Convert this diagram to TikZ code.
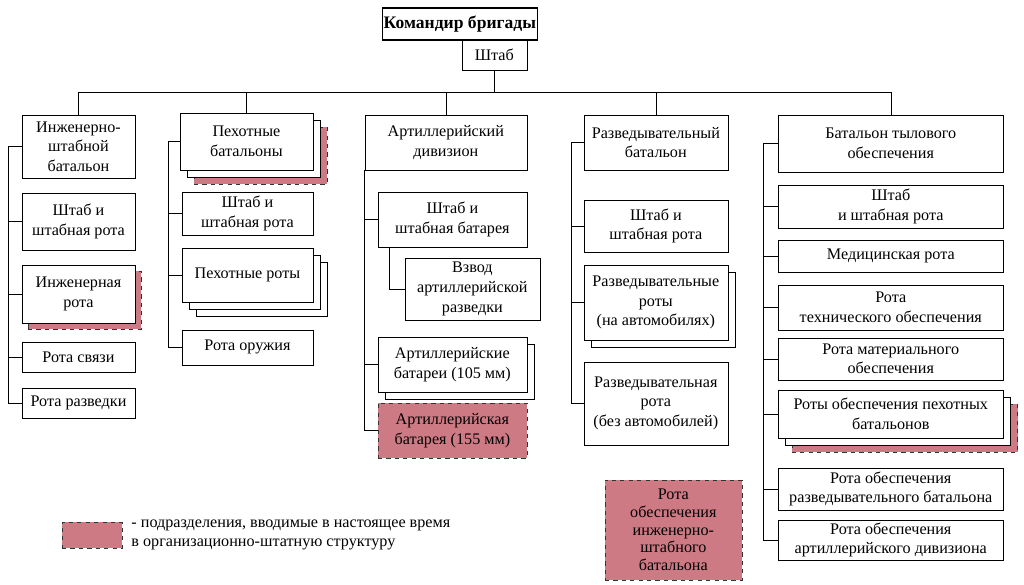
\documentclass[tikz,border=0pt]{standalone}
\usepackage{fontspec}
\setmainfont{Liberation Serif}
\usepackage{tikz}
\definecolor{newunit}{RGB}{205,122,132}

% box from pixel corners: [style] x1 y1 x2 y2 name text
\newcommand{\bx}[7][]{%
  \node[box,#1,minimum width={(#4-#2)*0.025cm},minimum height={(#5-#3)*0.025cm}]
    (#6) at ({(#2+#4)/2*0.025},{-(#3+#5)/2*0.025}) {#7};}

\begin{document}
\begin{tikzpicture}[
  box/.style={draw, thin, fill=white, inner sep=1pt, align=center,
              font=\fontsize{11.5}{14}\selectfont},
  newbox/.style={fill=newunit, dashed, draw=black!80},
  shade/.style={draw, thin, fill=white},
  link/.style={thin},
]
\useasboundingbox (0,0) rectangle (25.6,-14.6);
\coordinate (bus) at (0,-2.3);

% Command
\bx[line width=1.1pt, font=\fontsize{12.5}{14}\selectfont\bfseries]{390}{8}{530}{40}{cmd}{Командир бригады}
\bx{462}{40}{527}{70}{hq}{Штаб}

% Column 1
\bx{22}{115}{135}{178}{c1}{Инженерно-\\штабной\\батальон}
\coordinate (s1) at (0.2,0);
\bx{22}{193}{135}{250}{c1a}{Штаб и\\штабная рота}
\bx[newbox]{28}{271}{141}{329}{c1bs}{}
\bx{22}{265}{135}{323}{c1b}{Инженерная\\рота}
\bx{22}{342}{135}{372}{c1c}{Рота связи}
\bx{22}{388}{135}{418}{c1d}{Рота разведки}

% Column 2
\coordinate (s2) at (4.2,0);
\bx[newbox]{194}{127}{327}{184}{c2s2}{}
\bx[shade]{187}{120}{320}{177}{c2s1}{}
\bx{180}{113}{313}{170}{c2}{Пехотные\\батальоны}
\bx{182}{192}{313}{235}{c2a}{Штаб и\\штабная рота}
\bx[shade]{196}{262}{327}{316}{c2bs2}{}
\bx[shade]{189}{255}{320}{309}{c2bs1}{}
\bx{182}{248}{313}{302}{c2b}{Пехотные роты}
\bx{182}{330}{313}{365}{c2c}{Рота оружия}

% Column 3
\bx{365}{115}{527}{170}{c3}{Артиллерийский\\дивизион}
\bx{378}{192}{527}{247}{c3a}{Штаб и\\штабная батарея}
\bx{405}{258}{540}{320}{c3v}{Взвод\\артиллерийской\\разведки}
\bx[shade]{385}{344}{534}{399}{c3bs}{}
\bx{378}{337}{527}{392}{c3b}{Артиллерийские\\батареи (105 мм)}
\bx[newbox]{378}{403}{527}{458}{c3c}{Артиллерийская\\батарея (155 мм)}

% Column 4
\coordinate (s4) at (14.275,0);
\bx{584}{115}{728}{170}{c4}{Разведывательный\\батальон}
\bx{584}{200}{728}{252}{c4a}{Штаб и\\штабная рота}
\bx[shade]{591}{272}{735}{347}{c4bs}{}
\bx{584}{265}{728}{340}{c4b}{Разведывательные\\роты\\(на автомобилях)}
\bx{584}{362}{728}{445}{c4c}{Разведывательная\\рота\\(без автомобилей)}

% Column 5
\coordinate (s5) at (19.075,0);
\bx{778}{115}{1004}{172}{c5}{Батальон тылового\\обеспечения}
\bx{778}{185}{1004}{228}{c5a}{Штаб\\и штабная рота}
\bx{778}{240}{1004}{272}{c5b}{Медицинская рота}
\bx{778}{285}{1004}{330}{c5c}{Рота\\технического обеспечения}
\bx{778}{338}{1004}{380}{c5d}{Рота материального\\обеспечения}
\bx[newbox]{792}{404}{1018}{452}{c5es2}{}
\bx[shade]{785}{397}{1011}{445}{c5es1}{}
\bx{778}{390}{1004}{438}{c5e}{Роты обеспечения пехотных\\батальонов}
\bx{778}{468}{1004}{510}{c5f}{Рота обеспечения\\разведывательного батальона}
\bx{778}{520}{1004}{560}{c5g}{Рота обеспечения\\артиллерийского дивизиона}

% Separate new unit
\bx[newbox, font=\fontsize{11.5}{12.5}\selectfont]{605}{480}{742}{580}{sep}{Рота\\обеспечения\\инженерно-\\штабного\\батальона}

% Legend
\bx[newbox]{62}{522}{122}{548}{leg}{}
\node[anchor=west, align=left, font=\fontsize{11.5}{14}\selectfont] (legtxt)
  at ([xshift=3pt]leg.east) {- подразделения, вводимые в настоящее время\\в организационно-штатную структуру};

% Links
\draw[link] (hq.south) -- (hq.south |- bus);
\draw[link] (c1.north) -- (c1.north |- bus) -- (c5.north |- bus) -- (c5.north);
\foreach \c in {c2,c3,c4} \draw[link] (\c.north) -- (\c.north |- bus);

\draw[link] (c1.west) -- (c1.west -| s1) -- (c1d.west -| s1);
\foreach \c in {c1a,c1b,c1c,c1d} \draw[link] (\c.west) -- (\c.west -| s1);

\draw[link] (c2.west) -- (c2.west -| s2) -- (c2c.west -| s2);
\foreach \c in {c2a,c2b,c2c} \draw[link] (\c.west) -- (\c.west -| s2);

\draw[link] (c3.south west) -- (c3.south west |- c3c.west) -- (c3c.west);
\foreach \c in {c3a,c3b} \draw[link] (\c.west) -- (\c.west -| c3.south west);
\draw[link] ([xshift=0.3cm]c3a.south west) |- (c3v.west);

\draw[link] (c4.west) -- (c4.west -| s4) -- (c4c.west -| s4);
\foreach \c in {c4a,c4b,c4c} \draw[link] (\c.west) -- (\c.west -| s4);

\draw[link] (c5.west) -- (c5.west -| s5) -- (c5g.west -| s5);
\foreach \c in {c5a,c5b,c5c,c5d,c5e,c5f,c5g} \draw[link] (\c.west) -- (\c.west -| s5);
\end{tikzpicture}
\end{document}
